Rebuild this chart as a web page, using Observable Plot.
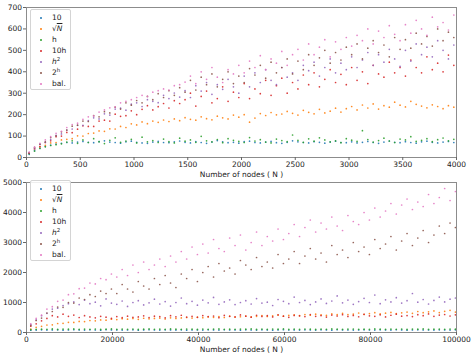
<!DOCTYPE html>
<html><head><meta charset="utf-8">
<script src="https://cdn.jsdelivr.net/npm/d3@7"></script>
<script src="https://cdn.jsdelivr.net/npm/@observablehq/plot@0.6"></script>
<style>
body{margin:0;background:#fff;}
#chart{position:relative;width:474px;height:355px;font-family:"DejaVu Sans",sans-serif;background:#fff;}
#chart svg{display:block;}
.legend{position:absolute;left:30px;width:41px;height:81px;border:1px solid #d4d4d4;border-radius:2px;background:rgba(255,255,255,0.85);font-size:7.5px;color:#222;box-sizing:border-box;}
.row{position:absolute;left:0;width:40px;height:10px;line-height:10px;}
.dot{position:absolute;left:8.5px;top:4px;width:2.5px;height:2.5px;border-radius:50%;}
.lab{position:absolute;left:21px;top:0;white-space:nowrap;}
.lab sup{font-size:5.5px;vertical-align:3px;line-height:0;}
</style></head><body><div id="chart"></div>
<script>
// ---- series definitions ----
const seriesNames = ["10", "sqrtN", "h", "10h", "h2", "2h", "bal."];
const seriesLabels = ["10", "√<span style='text-decoration:overline'><i>N</i></span>", "h", "10h", "<i>h</i><sup>2</sup>", "2<sup>h</sup>", "bal."];
const seriesColors = ["#1f77b4", "#ff7f0e", "#2ca02c", "#d62728", "#9467bd", "#8c564b", "#e377c2"];

// ---- top panel (N up to 4000) ----
const topN = [25,75,125,175,225,275,325,375,425,475,525,575,625,675,725,775,825,875,925,975,1025,1075,1125,1175,1225,1275,1325,1375,1425,1475,1525,1575,1625,1675,1725,1775,1825,1875,1925,1975,2025,2075,2125,2175,2225,2275,2325,2375,2425,2475,2525,2575,2625,2675,2725,2775,2825,2875,2925,2975,3025,3075,3125,3175,3225,3275,3325,3375,3425,3475,3525,3575,3625,3675,3725,3775,3825,3875,3925,3975];
const top10 = [15,32,44,52,58,63,66,70,68,72,75,71,69,74,78,72,70,67,73,76,71,68,66,72,75,70,69,73,77,71,68,74,70,66,72,79,73,69,71,67,74,76,70,68,72,75,69,66,71,78,73,70,68,74,71,67,72,76,70,69,73,68,71,75,70,66,72,77,71,69,74,70,67,73,76,71,68,72,75,70];
const topSqrtN = [22,38,50,57,68,70,82,85,88,101,100,112,114,124,122,134,133,145,140,157,152,166,158,170,164,175,168,180,172,186,178,174,190,181,176,193,185,180,198,188,200,165,184,205,196,210,199,203,215,206,198,220,211,204,225,208,216,230,212,228,238,222,245,231,250,226,242,235,258,244,236,262,248,240,232,246,238,228,242,235];
const topH = [18,30,42,50,56,60,64,72,78,66,82,70,88,74,65,80,92,71,77,85,68,95,73,79,70,86,74,68,90,76,82,71,99,78,73,84,69,88,80,75,70,93,77,83,72,68,86,79,74,105,80,71,87,76,92,82,73,78,69,88,81,75,125,84,72,79,90,77,70,86,82,97,75,80,88,74,83,91,78,85];
const top10h = [20,43,51,70,78,97,100,117,116,132,148,145,145,170,174,170,202,192,195,218,200,225,242,222,237,252,231,265,252,270,300,240,285,310,255,275,330,262,305,280,345,275,320,298,360,290,335,370,300,350,320,385,340,395,330,365,410,350,388,340,420,360,400,345,430,390,375,445,395,420,380,455,420,395,470,410,440,400,478,430];
const topH2 = [23,40,61,71,84,103,110,128,133,150,150,172,185,180,204,198,226,230,221,249,255,238,270,262,256,290,275,301,282,312,280,335,310,350,295,340,318,365,330,300,380,330,395,350,410,360,340,420,375,395,360,430,405,445,380,420,460,395,440,410,470,420,455,490,430,480,445,505,460,425,500,450,530,480,515,470,545,500,460,525];
const top2h = [20,47,62,73,93,101,120,128,146,151,170,168,195,190,214,208,235,226,255,244,266,255,285,270,298,280,312,290,326,305,360,315,375,340,390,330,365,400,345,380,350,415,385,430,370,445,395,420,460,390,450,410,480,430,465,500,440,490,455,515,480,530,460,510,545,490,525,470,560,505,550,510,580,530,565,520,600,545,585,560];
const topBal = [25,48,66,82,97,113,122,140,154,160,178,190,194,212,222,232,236,255,262,270,280,290,285,305,312,320,315,335,340,352,380,345,400,365,420,375,350,410,390,430,395,450,420,475,410,460,440,495,430,480,505,455,530,480,515,550,470,540,505,560,520,570,545,600,530,590,560,615,575,545,620,580,640,600,570,655,610,630,595,665];
const topXTicks = [0,500,1000,1500,2000,2500,3000,3500,4000];
const topYTicks = [0,100,200,300,400,500,600,700];

// ---- bottom panel (N up to 100000) ----
const botN = [1000,2250,3500,4750,6000,7250,8500,9750,11000,12250,13500,14750,16000,17250,18500,19750,21000,22250,23500,24750,26000,27250,28500,29750,31000,32250,33500,34750,36000,37250,38500,39750,41000,42250,43500,44750,46000,47250,48500,49750,51000,52250,53500,54750,56000,57250,58500,59750,61000,62250,63500,64750,66000,67250,68500,69750,71000,72250,73500,74750,76000,77250,78500,79750,81000,82250,83500,84750,86000,87250,88500,89750,91000,92250,93500,94750,96000,97250,98500,99750];
const bot10 = [75,82,88,80,85,90,78,84,92,86,80,88,83,79,91,85,87,81,84,90,78,86,92,83,80,88,85,82,90,79,84,87,81,89,85,80,92,83,86,78,88,84,81,90,86,79,85,91,83,87,80,89,84,82,88,85,79,92,86,83,81,87,90,84,80,88,85,82,91,86,79,84,89,83,87,81,90,85,82,88];
const botSqrtN = [110,175,205,250,255,300,305,340,335,370,365,400,390,420,410,445,430,460,445,470,440,475,455,468,480,450,490,470,485,500,480,510,495,520,505,530,500,545,515,525,550,520,540,565,535,555,580,545,570,590,560,600,575,610,590,570,620,595,640,600,615,650,605,630,660,620,645,670,630,655,680,640,700,660,690,720,665,705,740,680];
const botH = [95,105,112,108,118,102,115,110,120,106,113,108,117,104,111,119,107,114,109,116,103,112,118,108,114,105,120,110,107,116,111,104,117,109,113,119,106,112,108,115,110,118,104,113,107,116,111,120,105,114,109,117,112,103,115,108,119,110,106,113,117,108,112,105,118,111,107,114,109,116,104,113,110,119,106,112,115,108,117,111];
const bot10h = [210,290,390,470,560,520,610,540,580,500,560,520,490,540,510,470,530,495,545,505,520,555,500,545,530,490,560,525,575,515,540,505,565,530,550,495,570,540,520,585,545,510,575,535,560,520,590,545,505,570,555,530,600,540,565,515,580,550,595,535,570,525,605,555,540,590,520,575,610,545,565,530,595,560,620,540,580,600,550,590];
const botH2 = [260,420,560,640,780,810,900,960,1020,930,1080,960,1010,890,1120,980,940,1050,870,1000,1060,920,990,1110,950,1030,880,1000,1150,960,1040,910,1080,990,1170,940,1020,1090,930,1000,1060,950,1130,980,1010,900,1100,1040,960,1180,1000,1070,930,1020,1120,970,1050,1220,990,1080,940,1030,1140,1000,1250,960,1090,1020,1160,980,1060,1300,1010,1100,950,1070,1180,1020,1110,1150];
const bot2h = [240,400,480,650,700,850,840,1000,980,1150,1100,1260,1200,1380,1300,1450,1300,1600,1450,1350,1700,1550,1450,1800,1600,1900,1650,1500,1950,1800,2100,1700,2000,2200,1850,2300,2050,2150,1950,2400,2250,2100,2500,2200,2350,2150,2600,2300,2450,2700,2300,2550,2800,2450,2650,2350,2900,2600,2750,2500,3000,2700,2850,2600,3100,2800,2950,3200,2750,3050,3300,2900,3150,3400,3000,3250,3550,3300,3650,3500];
const botBal = [290,470,580,780,860,1040,1080,1260,1290,1460,1480,1650,1620,1800,1760,1950,1850,2100,1900,2250,2000,2350,2100,2250,2450,2200,2550,2350,2700,2450,2850,2600,2950,2650,3100,2800,2700,3150,2900,3250,2750,3000,3350,2900,3200,3050,3450,3100,3300,3600,3200,3500,3750,3350,3650,3450,3850,3550,3400,3900,3700,3600,4000,3750,4150,3850,4050,4300,3950,4250,4450,4100,4350,4200,4600,4300,4500,4800,4400,4700];
const botXTicks = [0,20000,40000,60000,80000,100000];
const botYTicks = [0,1000,2000,3000,4000,5000];

const chart = document.getElementById("chart");

function panel(N, values, xTicks, yTicks, xDomain, yDomain, height, marginTop, marginBottom) {
  const rows = values.flatMap((vals, k) => vals.map((v, i) => ({N: N[i], v, s: seriesNames[k]})));
  return Plot.plot({
    width: 474, height, marginTop, marginBottom, marginLeft: 26, marginRight: 18,
    style: {fontFamily: "DejaVu Sans", fontSize: "7.5px", color: "#222", background: "white", overflow: "visible"},
    x: {domain: xDomain},
    y: {domain: yDomain},
    color: {domain: seriesNames, range: seriesColors},
    marks: [
      Plot.dot(rows, {x: "N", y: "v", fill: "s", r: 0.85, fillOpacity: 0.9}),
      Plot.frame({stroke: "#8c8c8c"}),
      Plot.axisX({ticks: xTicks, tickSize: 3, tickPadding: 1.5, tickFormat: d => String(d), stroke: "#666",
        label: "Number of nodes ( N )", labelAnchor: "center", labelOffset: 19, labelArrow: "none"}),
      Plot.axisY({ticks: yTicks, tickSize: 3, tickPadding: 1.5, tickFormat: d => String(d), stroke: "#666", label: null})
    ]
  });
}

function legend(top) {
  const box = document.createElement("div");
  box.className = "legend";
  box.style.top = top + "px";
  seriesLabels.forEach((lab, k) => {
    const row = document.createElement("div");
    row.className = "row";
    row.style.top = (2.5 + 11 * k) + "px";
    row.innerHTML = `<span class="dot" style="background:${seriesColors[k]}"></span><span class="lab">${lab}</span>`;
    box.appendChild(row);
  });
  chart.appendChild(box);
}

chart.appendChild(panel(topN, [top10, topSqrtN, topH, top10h, topH2, top2h, topBal], topXTicks, topYTicks, [0, 4000], [0, 700], 178, 7, 21));
chart.appendChild(panel(botN, [bot10, botSqrtN, botH, bot10h, botH2, bot2h, botBal], botXTicks, botYTicks, [0, 100000], [0, 5000], 177, 4, 23));
legend(9);
legend(180);
</script></body></html>
